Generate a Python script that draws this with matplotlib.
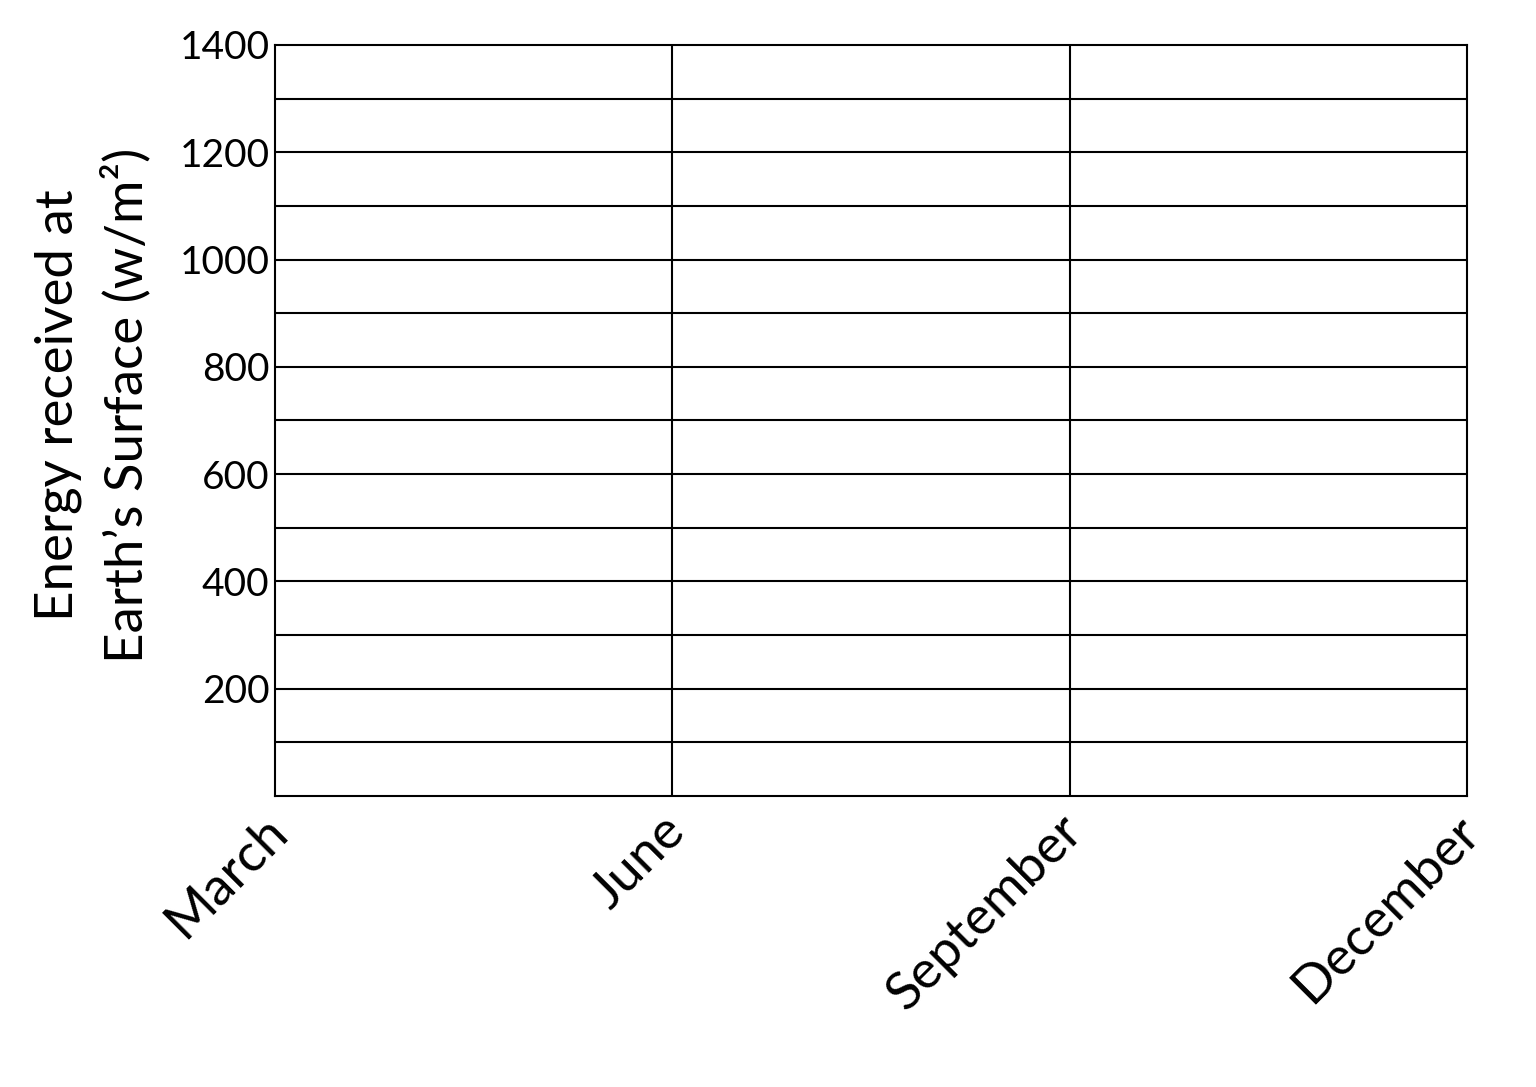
import matplotlib
matplotlib.use("Agg")
import matplotlib.pyplot as plt
from matplotlib.transforms import ScaledTranslation

months = ["March", "June", "September", "December"]
y_min, y_max = 0, 1400
grid_step = 100
label_ticks = [200, 400, 600, 800, 1000, 1200, 1400]
ylabel = "Energy received at\nEarth\u2019s Surface (w/m\u00b2)"

plt.rcParams['font.family'] = ['Lato', 'DejaVu Sans']

fig = plt.figure(figsize=(15.36, 10.87), dpi=100)
ax = fig.add_axes([275/1536, 1-796/1087, (1467-275)/1536, (796-45)/1087])

x = list(range(len(months)))
ax.set_xlim(x[0], x[-1])
ax.set_ylim(y_min, y_max)

for yv in range(y_min + grid_step, y_max, grid_step):
    ax.axhline(yv, color="black", lw=1.5)
for xv in x[1:-1]:
    ax.axvline(xv, color="black", lw=1.5)

for s in ax.spines.values():
    s.set_linewidth(1.5)

ax.set_xticks(x)
ax.set_xticklabels(months, rotation=45, ha="right", va="top", rotation_mode="anchor", fontsize=38)
ax.set_yticks(label_ticks)
ax.set_yticklabels([str(v) for v in label_ticks], fontsize=28)
ax.tick_params(axis="y", length=0, pad=4)
ax.tick_params(axis="x", length=0, pad=8)
off = ScaledTranslation(-12/100, 0, fig.dpi_scale_trans)
for lbl in ax.get_xticklabels():
    lbl.set_transform(lbl.get_transform() + off)
ax.set_ylabel(ylabel, fontsize=38, linespacing=1.45)
ax.yaxis.set_label_coords(-0.104, 0.52)

fig.savefig("out.png", dpi=100, facecolor="white")
